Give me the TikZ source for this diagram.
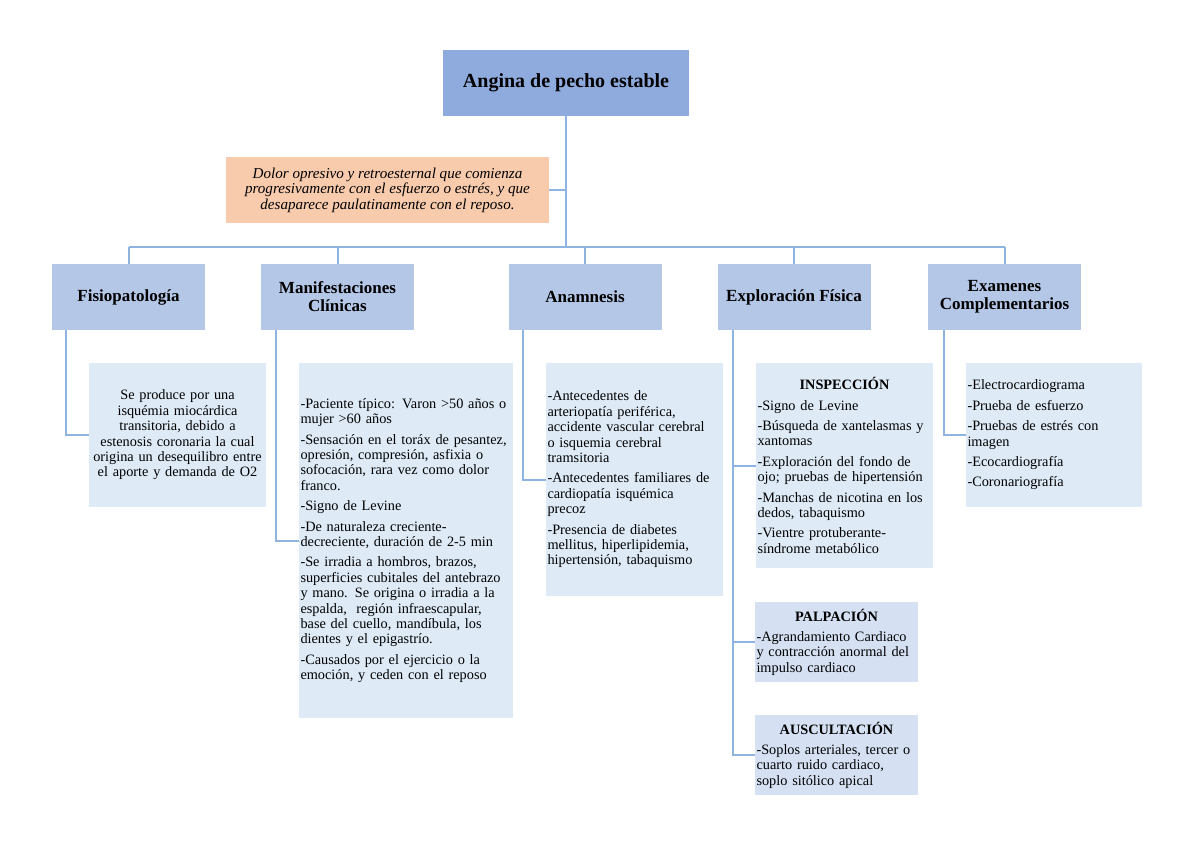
\documentclass[tikz,border=0pt]{standalone}
\usepackage{fontspec}
\setmainfont{Liberation Serif}
\definecolor{topblue}{HTML}{8FAADC}
\definecolor{lvlone}{HTML}{B4C7E7}
\definecolor{lvltwo}{HTML}{DEEAF6}
\definecolor{lvltwob}{HTML}{D5E1F2}
\definecolor{orangebox}{HTML}{F8CBAD}
\definecolor{linkblue}{HTML}{8FB4E2}
\tikzset{
  box/.style={rectangle, inner sep=0pt, draw=none},
  titlebox/.style={box, fill=topblue, minimum width=246pt, minimum height=66pt,
    font=\fontsize{20}{24}\selectfont\bfseries},
  notebox/.style={box, fill=orangebox, minimum width=323pt, minimum height=66pt,
    align=center, font=\fontsize{15.1}{15.5}\selectfont\itshape},
  levelone/.style={box, fill=lvlone, minimum width=153pt, minimum height=66pt,
    align=center, font=\fontsize{17}{18}\selectfont\bfseries},
  leveltwo/.style={box, fill=lvltwo, inner xsep=1.5pt, align=left,
    font=\fontsize{14.3}{15.4}\selectfont,
    execute at begin node={\hyphenpenalty=10000\exhyphenpenalty=10000}},
  leveltwob/.style={leveltwo, fill=lvltwob},
  link/.style={draw=linkblue, line width=2pt},
}
\newcommand{\headline}[1]{\makebox[\linewidth][c]{\bfseries #1}}
\begin{document}
\begin{tikzpicture}[x=1pt,y=-1pt]
\useasboundingbox (0,0) rectangle (1200,848);
\fill[white] (0,0) rectangle (1200,848);

% top level
\node[titlebox] (top) at (566,83) {Angina de pecho estable};
\node[notebox] (note) at (387.5,190) {Dolor opresivo y retroesternal que comienza\\progresivamente con el esfuerzo o estrés, y que\\desaparece paulatinamente con el reposo.};

% level one
\node[levelone] (fis) at (128.5,297) {Fisiopatología};
\node[levelone] (man) at (337.5,297) {Manifestaciones\\Clínicas};
\node[levelone] (ana) at (585,297) {Anamnesis};
\node[levelone] (exp) at (794,297) {Exploración Física};
\node[levelone] (exa) at (1004.5,297) {Examenes\\Complementarios};

% level two
\node[leveltwo, align=center, text width=174pt, minimum height=144pt] (fisT) at (177.5,435)
  {Se produce por una\\isquémia miocárdica\\transitoria, debido a\\estenosis coronaria la cual\\origina un desequilibro entre\\el aporte y demanda de O2};

\node[leveltwo, text width=211pt, minimum height=355pt] (manT) at (406,540.5)
  {-Paciente típico: Varon >50 años o\\mujer >60 años\\[5pt]
   -Sensación en el toráx de pesantez,\\opresión, compresión, asfixia o\\sofocación, rara vez como dolor\\franco.\\[5pt]
   -Signo de Levine\\[5pt]
   -De naturaleza creciente-\\decreciente, duración de 2-5 min\\[5pt]
   -Se irradia a hombros, brazos,\\superficies cubitales del antebrazo\\y mano. Se origina o irradia a la\\espalda,~ región infraescapular,\\base del cuello, mandíbula, los\\dientes y el epigastrío.\\[5pt]
   -Causados por el ejercicio o la\\emoción, y ceden con el reposo};

\node[leveltwo, text width=174pt, minimum height=233pt] (anaT) at (634.5,479.5)
  {-Antecedentes de\\arteriopatía periférica,\\accidente vascular cerebral\\o isquemia cerebral\\tramsitoria\\[5pt]
   -Antecedentes familiares de\\cardiopatía isquémica\\precoz\\[5pt]
   -Presencia de diabetes\\mellitus, hiperlipidemia,\\hipertensión, tabaquismo};

\node[leveltwo, text width=174pt, minimum height=205pt] (insp) at (844.5,465.5)
  {\headline{INSPECCIÓN}\\[5pt]
   -Signo de Levine\\[5pt]
   -Búsqueda de xantelasmas y\\xantomas\\[5pt]
   -Exploración del fondo de\\ojo; pruebas de hipertensión\\[5pt]
   -Manchas de nicotina en los\\dedos, tabaquismo\\[5pt]
   -Vientre protuberante-\\síndrome metabólico};

\node[leveltwob, text width=160pt, minimum height=80pt] (palp) at (836.5,642)
  {\headline{PALPACIÓN}\\[5pt]
   -Agrandamiento Cardiaco\\y contracción anormal del\\impulso cardiaco};

\node[leveltwob, text width=160pt, minimum height=80pt] (ausc) at (836.5,755)
  {\headline{AUSCULTACIÓN}\\[5pt]
   -Soplos arteriales, tercer o\\cuarto ruido cardiaco,\\soplo sitólico apical};

\node[leveltwo, text width=173pt, minimum height=144pt] (exaT) at (1054,435)
  {-Electrocardiograma\\[5pt]
   -Prueba de esfuerzo\\[5pt]
   -Pruebas de estrés con\\imagen\\[5pt]
   -Ecocardiografía\\[5pt]
   -Coronariografía};

% connectors
\coordinate (hub) at (566,247);
\draw[link] (top.south) -- (hub);
\draw[link] (note.east) -- (note.east -| hub);
\draw[link] (fis.north |- hub) -- (exa.north |- hub);
\foreach \n in {fis,man,ana,exp,exa} \draw[link] (\n.north |- hub) -- (\n.north);

\draw[link] ([xshift=14pt]fis.south west) |- (fisT.west);
\draw[link] ([xshift=15pt]man.south west) |- (manT.west);
\draw[link] ([xshift=15pt]ana.south west) |- (anaT.west);
\draw[link] ([xshift=16pt]exp.south west) |- (insp.west);
\draw[link] ([xshift=16pt]exp.south west) |- (palp.west);
\draw[link] ([xshift=16pt]exp.south west) |- (ausc.west);
\draw[link] ([xshift=16pt]exa.south west) |- (exaT.west);
\end{tikzpicture}
\end{document}
